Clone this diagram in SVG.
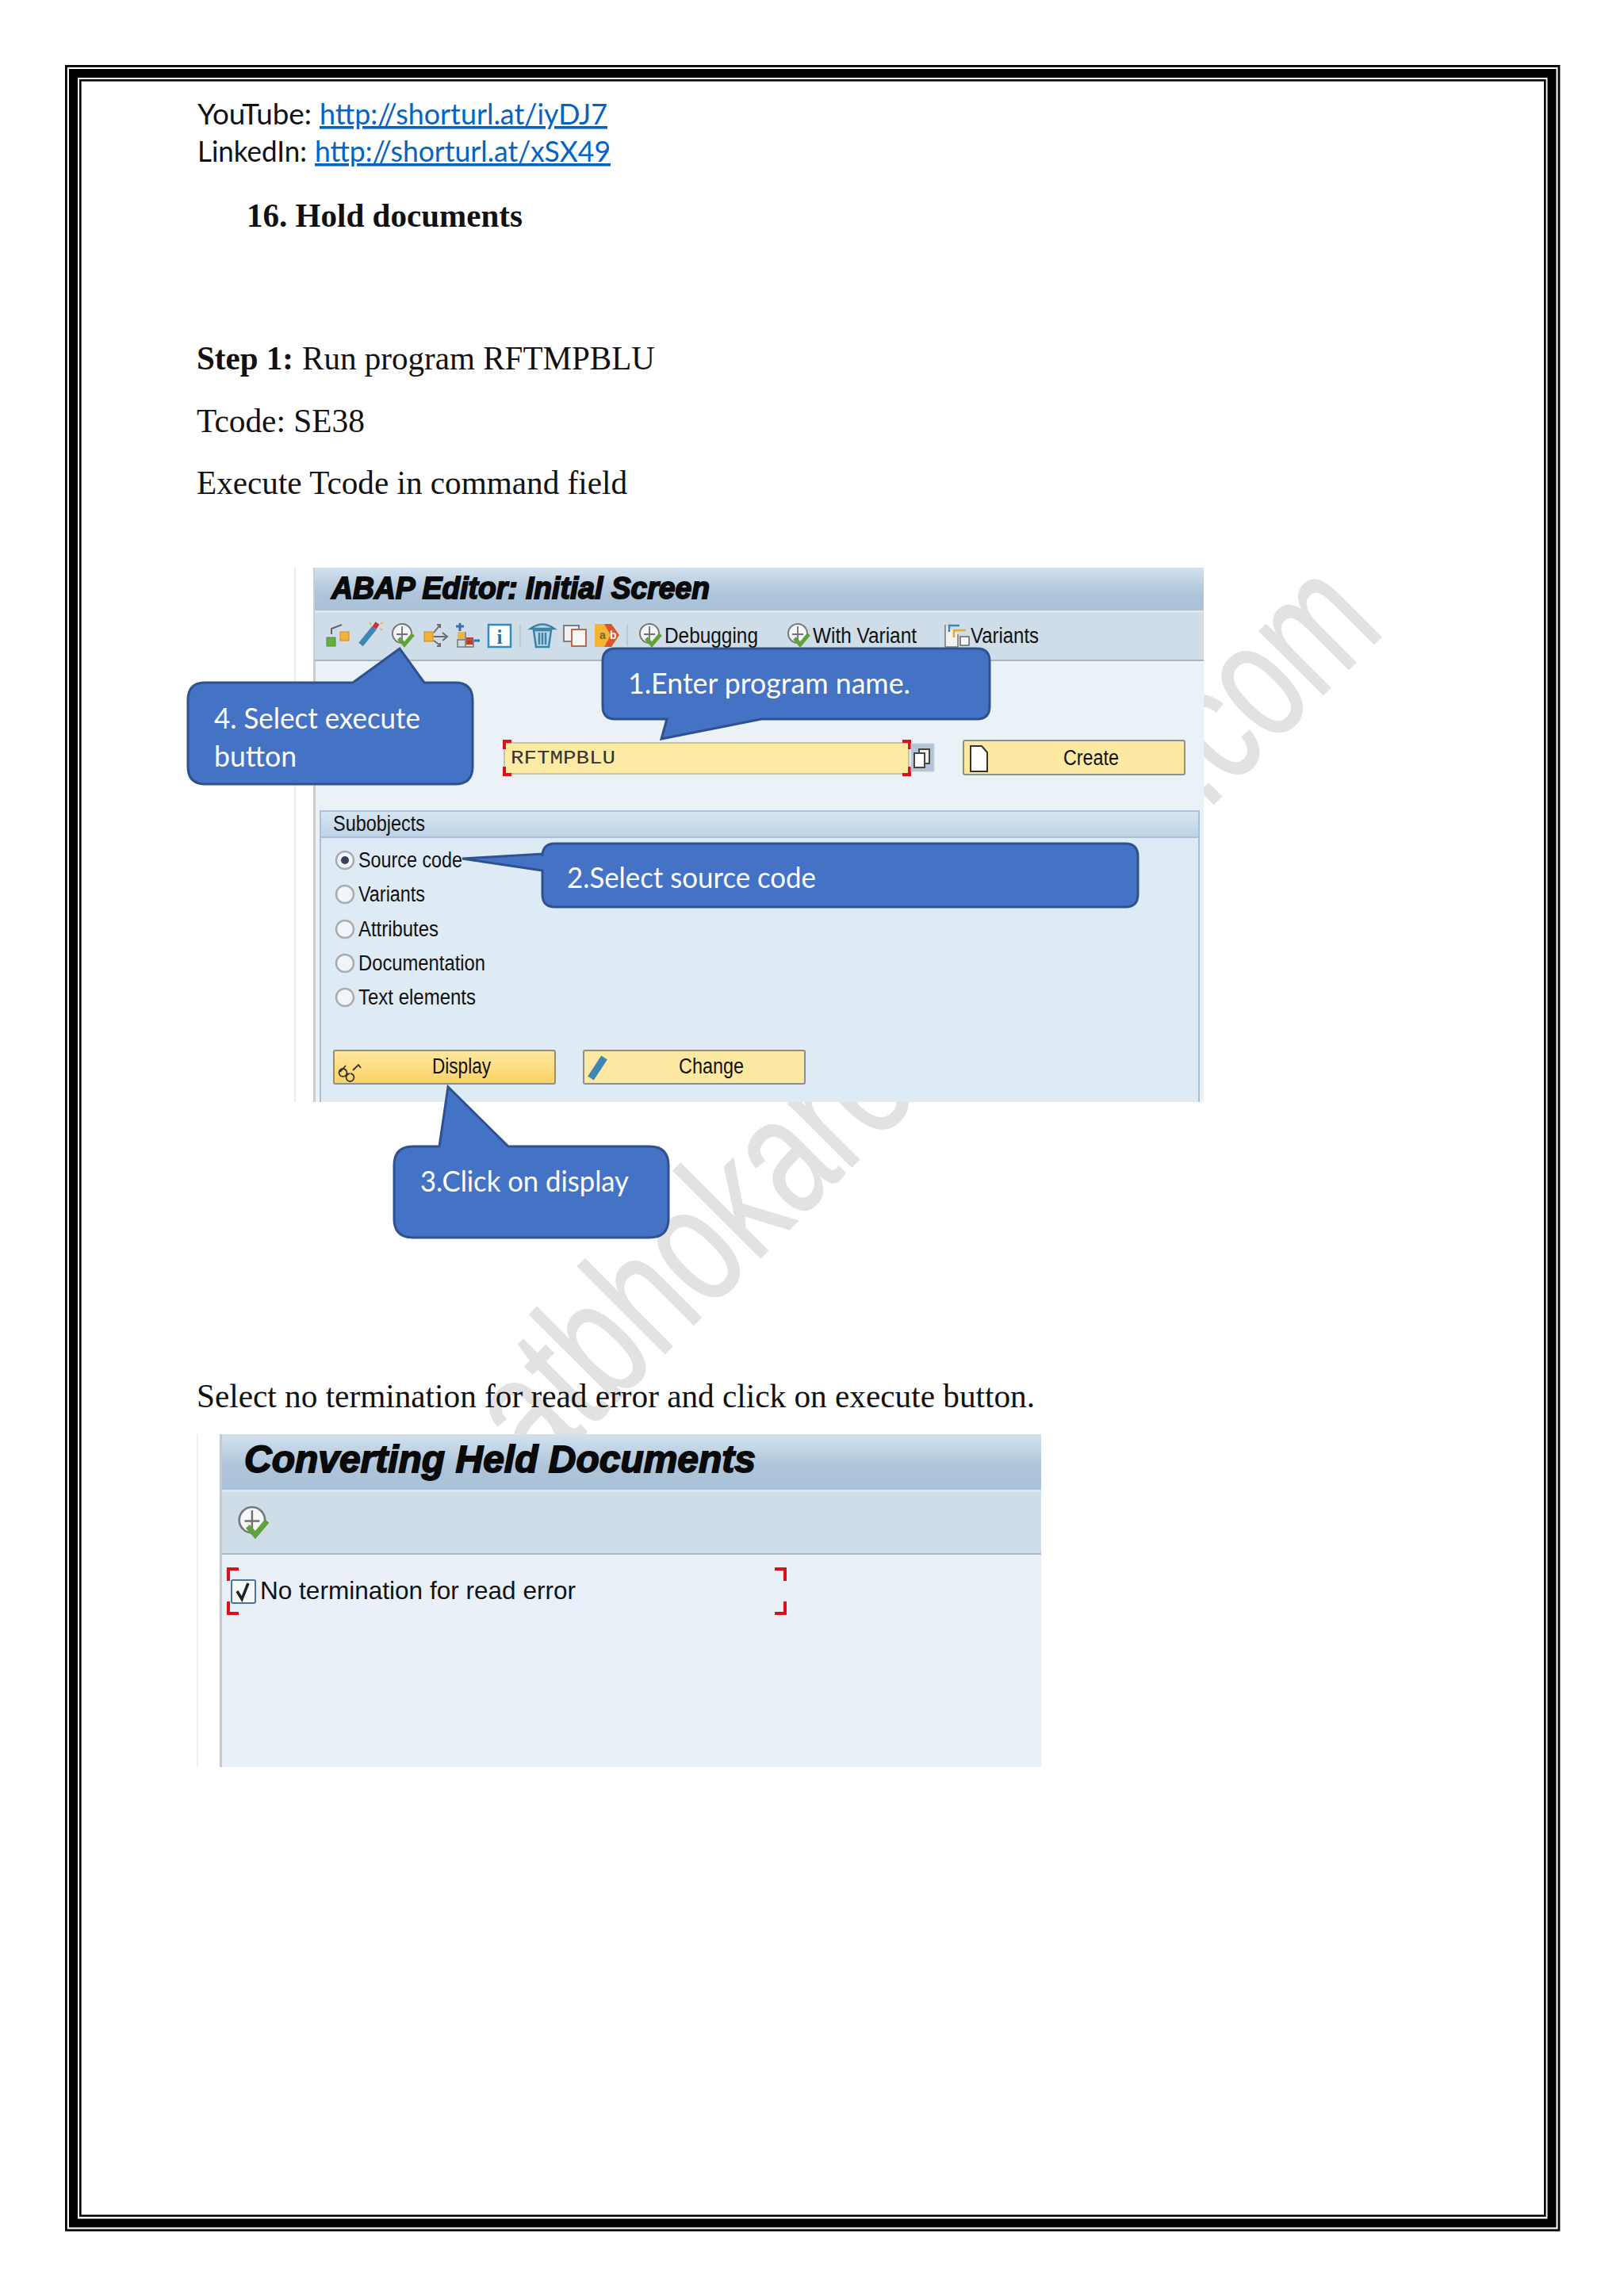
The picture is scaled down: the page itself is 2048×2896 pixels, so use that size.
<svg xmlns="http://www.w3.org/2000/svg" xmlns:xlink="http://www.w3.org/1999/xlink" width="2048" height="2896" viewBox="0 0 2048 2896">
<style>
.cal{font-family:"Lato","Liberation Sans",sans-serif;font-size:36px;fill:#111}
.link{fill:#0563c1;text-decoration:underline}
.ser{font-family:"Liberation Serif",serif;font-size:42px;fill:#111}
.b{font-weight:700}
.ui{font-family:"Liberation Sans",sans-serif;font-size:27px;fill:#111}
.ttl{font-family:"Liberation Sans",sans-serif;font-weight:700;font-style:italic;fill:#0a0a0a;stroke:#0a0a0a;stroke-width:1.8}
.call{fill:#4472c4;stroke:#2f528f;stroke-width:3;stroke-linejoin:miter}
.ct{font-family:"Lato","Liberation Sans",sans-serif;font-size:36px;fill:#fff}
.red{fill:none;stroke:#d9111a;stroke-width:4}
.btn{stroke:#8f8f86;stroke-width:2}
.rad{fill:#f1f5f9;stroke:#a9adb1;stroke-width:2.5}
.fr{fill:none;stroke:#000}
.wm{font-family:"Liberation Sans",sans-serif;font-size:215px;fill:#e2e2e2;stroke:#e2e2e2;stroke-width:1.5}
</style>
<defs>
<linearGradient id="hdr" x1="0" y1="0" x2="0" y2="1"><stop offset="0" stop-color="#d3e1ee"/><stop offset="0.6" stop-color="#adc4da"/><stop offset="1" stop-color="#aac2d9"/></linearGradient>
<linearGradient id="sub" x1="0" y1="0" x2="0" y2="1"><stop offset="0" stop-color="#d8e6f2"/><stop offset="1" stop-color="#bdd2e6"/></linearGradient>
<linearGradient id="dsp" x1="0" y1="0" x2="0" y2="1"><stop offset="0" stop-color="#fee7a0"/><stop offset="1" stop-color="#fdd266"/></linearGradient>
<g id="clock">
<circle cx="14" cy="12" r="12" fill="#f4f6f7" stroke="#75797c" stroke-width="2"/>
<path d="M14 3V20M7 13H21" stroke="#6d7174" stroke-width="1.8" fill="none"/>
<path d="M10 18L17 26L28 13" fill="none" stroke="#5ea23a" stroke-width="5"/>
</g>
</defs>
<rect width="2048" height="2896" fill="#fff"/>

<g id="page-border">
<rect class="fr" x="83.4" y="83.4" width="1882.6" height="2729.6" stroke-width="2.8"/>
<rect class="fr" x="92.5" y="92.5" width="1864.5" height="2711.5" stroke-width="11"/>
<rect class="fr" x="101.3" y="101.3" width="1847" height="2693.5" stroke-width="2.6"/>
</g>

<g id="watermark">
<text class="wm" transform="translate(680,1866) rotate(-45)" textLength="683" lengthAdjust="spacingAndGlyphs">atbhokare</text>
<text class="wm" transform="translate(1521,1024) rotate(-45)" textLength="322" lengthAdjust="spacingAndGlyphs">.com</text>
</g>

<g id="page-text">
<text class="cal" x="249" y="157" textLength="144" lengthAdjust="spacingAndGlyphs">YouTube:</text>
<text class="cal link" x="403" y="157" textLength="363" lengthAdjust="spacingAndGlyphs">http://shorturl.at/iyDJ7</text>
<text class="cal" x="249" y="204" textLength="138" lengthAdjust="spacingAndGlyphs">LinkedIn:</text>
<text class="cal link" x="397" y="204" textLength="373" lengthAdjust="spacingAndGlyphs">http://shorturl.at/xSX49</text>
<text class="ser b" x="311" y="286" textLength="348" lengthAdjust="spacingAndGlyphs">16. Hold documents</text>
<text class="ser b" x="248" y="466" textLength="122" lengthAdjust="spacingAndGlyphs">Step 1:</text>
<text class="ser" x="381" y="466" textLength="445" lengthAdjust="spacingAndGlyphs">Run program RFTMPBLU</text>
<text class="ser" x="248" y="545" textLength="212" lengthAdjust="spacingAndGlyphs">Tcode: SE38</text>
<text class="ser" x="248" y="623" textLength="543" lengthAdjust="spacingAndGlyphs">Execute Tcode in command field</text>
<text class="ser" x="248" y="1775" textLength="1057" lengthAdjust="spacingAndGlyphs">Select no termination for read error and click on execute button.</text>
</g>

<g id="abap-screen">
<rect x="371" y="716" width="1147" height="674" fill="#fff"/>
<rect x="371" y="716" width="2" height="674" fill="#ececec"/>
<rect x="396" y="716" width="1122" height="674" fill="#eaf1f7"/>
<rect x="395" y="716" width="3" height="674" fill="#c9ced3"/>
<rect x="397" y="716" width="1121" height="54" fill="url(#hdr)"/>
<rect x="397" y="770" width="1121" height="3" fill="#dbe6f0"/>
<rect x="397" y="773" width="1121" height="59" fill="#cfdde9"/>
<rect x="397" y="832" width="1121" height="2" fill="#a8b6c4"/>
<text class="ttl" x="418" y="755" font-size="38" textLength="477" lengthAdjust="spacingAndGlyphs">ABAP Editor: Initial Screen</text>

<g id="toolbar">
<path d="M418 800V793L431 788" fill="none" stroke="#666" stroke-width="2"/>
<rect x="412" y="804" width="11" height="11" fill="#63b03f" stroke="#4e8a34"/>
<rect x="429" y="797" width="11" height="11" fill="#f5b335" stroke="#c98a1b"/>
<path d="M455 813L472 792" stroke="#3f86b5" stroke-width="7"/>
<path d="M472 792L476 786" stroke="#cf2e3e" stroke-width="6"/>
<path d="M480 787L483 785M466 785L468 788M482 795L479 793" stroke="#f2b33d" stroke-width="2"/>
<use xlink:href="#clock" href="#clock" x="493" y="787"/>
<rect x="535" y="797" width="11" height="12" fill="#f5b335" stroke="#c98a1b"/>
<path d="M547 803H563M558 798L564 803L558 808M547 798L555 788M551 788H555V792M547 808L555 814M551 815H555V811" fill="none" stroke="#6c6c6c" stroke-width="2"/>
<rect x="577" y="797" width="9" height="9" fill="#f5b335"/><rect x="588" y="804" width="9" height="9" fill="#c23b25"/>
<path d="M580 786V796M575 790H585M598 808H605" stroke="#3a6db0" stroke-width="3"/>
<path d="M577 807H597V816H577ZM587 797V816" fill="none" stroke="#777" stroke-width="1.5"/>
<rect x="616" y="788" width="28" height="28" fill="#fff" stroke="#2d8ec1" stroke-width="2.5"/>
<text x="630" y="812" text-anchor="middle" font-family="Liberation Serif, serif" font-weight="700" font-size="25" fill="#1777a8">i</text>
<path d="M656 788V815M791 788V815" stroke="#b8c4cf" stroke-width="1.5"/>
<path d="M669 793Q684 782 699 793ZM673 795H695L692 816H676ZM680 798V813M684 798V813M688 798V813" fill="#bcd4e4" stroke="#3e84a8" stroke-width="2.5"/>
<rect x="711" y="789" width="19" height="20" fill="#eef1f3" stroke="#7e7e7e" stroke-width="2"/>
<rect x="721" y="794" width="18" height="21" fill="#f6f6f6" stroke="#b86a55" stroke-width="2"/>
<path d="M750 787H763L772 801L763 816H750Z" fill="#f6b335"/>
<path d="M762 787H771L781 801L771 816H762L770 801Z" fill="#d8562a"/>
<text x="756" y="806" font-family="Liberation Sans, sans-serif" font-weight="700" font-size="14" fill="#6b6b2a">a</text>
<text x="769" y="806" font-family="Liberation Sans, sans-serif" font-weight="700" font-size="14" fill="#fff">b</text>
<use xlink:href="#clock" href="#clock" x="805" y="787"/>
<text class="ui" x="838" y="811" textLength="118" lengthAdjust="spacingAndGlyphs">Debugging</text>
<use xlink:href="#clock" href="#clock" x="992" y="787"/>
<text class="ui" x="1025" y="811" textLength="131" lengthAdjust="spacingAndGlyphs">With Variant</text>
<path d="M1192 788V816H1208V800" fill="#f2f2f2" stroke="#777" stroke-width="1.5"/>
<path d="M1197 797V789H1210" fill="none" stroke="#3e86b8" stroke-width="2.5"/>
<path d="M1203 804V795H1218" fill="none" stroke="#f0a52c" stroke-width="2.5"/>
<rect x="1211" y="803" width="11" height="11" fill="#fafafa" stroke="#666" stroke-width="1.5"/>
<text class="ui" x="1224" y="811" textLength="86" lengthAdjust="spacingAndGlyphs">Variants</text>
</g>

<g id="program-field">
<rect x="636" y="937" width="510" height="39" fill="#fdeba3" stroke="#b5b5a8" stroke-width="1.5"/>
<path class="red" d="M645 935H636V945M636 967V977H645M1138 935H1147V945M1147 967V977H1138"/>
<text x="644" y="963" font-family="Liberation Mono, monospace" font-size="24" fill="#333" textLength="132" lengthAdjust="spacingAndGlyphs">RFTMPBLU</text>
<rect x="1149" y="938" width="29" height="35" fill="#b4c4d6" stroke="#c6d0da"/>
<rect x="1159" y="945" width="13" height="18" fill="#eee" stroke="#444" stroke-width="2"/>
<rect x="1153" y="950" width="13" height="18" fill="#fff" stroke="#444" stroke-width="2"/>
</g>

<g id="create-button">
<rect class="btn" x="1215" y="934" width="279" height="43" rx="2" fill="#fee9a2"/>
<path d="M1224 941H1238L1245 949V973H1224Z" fill="#fff" stroke="#333" stroke-width="2"/>
<text class="ui" x="1376" y="965" text-anchor="middle" textLength="70" lengthAdjust="spacingAndGlyphs">Create</text>
</g>

<g id="subobjects">
<rect x="404" y="1023" width="1108" height="367" fill="#deeaf4"/>
<path d="M404 1390V1023H1512V1390" fill="none" stroke="#a9c0d6" stroke-width="2"/>
<rect x="404" y="1023" width="1108" height="33" fill="url(#sub)" stroke="#a9c0d6" stroke-width="2"/>
<text class="ui" x="420" y="1048" textLength="116" lengthAdjust="spacingAndGlyphs">Subobjects</text>
<circle class="rad" cx="435" cy="1085" r="11"/><circle cx="435" cy="1085" r="5" fill="#3b3f55"/>
<text class="ui" x="452" y="1094" textLength="131" lengthAdjust="spacingAndGlyphs">Source code</text>
<circle class="rad" cx="435" cy="1128" r="11"/>
<text class="ui" x="452" y="1137" textLength="84" lengthAdjust="spacingAndGlyphs">Variants</text>
<circle class="rad" cx="435" cy="1172" r="11"/>
<text class="ui" x="452" y="1181" textLength="101" lengthAdjust="spacingAndGlyphs">Attributes</text>
<circle class="rad" cx="435" cy="1215" r="11"/>
<text class="ui" x="452" y="1224" textLength="160" lengthAdjust="spacingAndGlyphs">Documentation</text>
<circle class="rad" cx="435" cy="1258" r="11"/>
<text class="ui" x="452" y="1267" textLength="148" lengthAdjust="spacingAndGlyphs">Text elements</text>
</g>

<g id="display-button">
<rect class="btn" x="421" y="1325" width="279" height="42" rx="2" fill="url(#dsp)"/>
<path d="M432 1348a5 5 0 1 0 1 0M441 1354a5 5 0 1 0 1 0M436 1344L429 1352M445 1350L452 1343L455 1347" fill="none" stroke="#333" stroke-width="1.8"/>
<text class="ui" x="582" y="1354" text-anchor="middle" textLength="74" lengthAdjust="spacingAndGlyphs">Display</text>
</g>
<g id="change-button">
<rect class="btn" x="736" y="1325" width="279" height="42" rx="2" fill="#fee9a2"/>
<path d="M745 1360L762 1334" stroke="#3f86b5" stroke-width="9"/>
<text class="ui" x="897" y="1354" text-anchor="middle" textLength="82" lengthAdjust="spacingAndGlyphs">Change</text>
</g>
</g>

<g id="convert-screen">
<rect x="248" y="1809" width="2" height="420" fill="#efefef"/>
<rect x="278" y="1809" width="1035" height="420" fill="#eaf0f7"/>
<rect x="277" y="1809" width="3" height="420" fill="#c3cad1"/>
<rect x="280" y="1809" width="1033" height="70" fill="url(#hdr)"/>
<rect x="280" y="1879" width="1033" height="3" fill="#dbe6f0"/>
<rect x="280" y="1882" width="1033" height="77" fill="#cfdde9"/>
<rect x="280" y="1959" width="1033" height="2" fill="#a8b6c4"/>
<text class="ttl" x="308" y="1857" font-size="48" textLength="645" lengthAdjust="spacingAndGlyphs">Converting Held Documents</text>
<use xlink:href="#clock" href="#clock" transform="translate(299,1901) scale(1.35)"/>
<path class="red" d="M301 1979H288V1994M288 2020V2035H301M977 1979H990V1994M990 2020V2035H977"/>
<rect x="292" y="1993" width="30" height="29" rx="2" fill="#f5f8fb" stroke="#4a74a8" stroke-width="2"/>
<path d="M299 2007L305 2017L313 1997" fill="none" stroke="#222" stroke-width="3.5"/>
<text class="ui" x="328" y="2017" textLength="398" lengthAdjust="spacingAndGlyphs" style="font-size:32px">No termination for read error</text>
</g>

<g id="connectors"></g>

<g id="callout-4">
<path class="call" d="M259 861H445L504 818L535 861H574Q596 861 596 883V967Q596 989 574 989H259Q237 989 237 967V883Q237 861 259 861Z"/>
<text class="ct" x="270" y="919" textLength="260" lengthAdjust="spacingAndGlyphs">4. Select execute</text>
<text class="ct" x="270" y="967" textLength="104" lengthAdjust="spacingAndGlyphs">button</text>
</g>
<g id="callout-1">
<path class="call" d="M776 818H1232Q1248 818 1248 834V891Q1248 907 1232 907H960L834 932L841 907H776Q760 907 760 891V834Q760 818 776 818Z"/>
<text class="ct" x="792" y="875" textLength="356" lengthAdjust="spacingAndGlyphs">1.Enter program name.</text>
</g>
<g id="callout-2">
<path class="call" d="M700 1064H1419Q1435 1064 1435 1080V1128Q1435 1144 1419 1144H700Q684 1144 684 1128V1098L583 1083L684 1077V1080Q684 1064 700 1064Z"/>
<text class="ct" x="715" y="1120" textLength="314" lengthAdjust="spacingAndGlyphs">2.Select source code</text>
</g>
<g id="callout-3">
<path class="call" d="M521 1446H554L565 1371L641 1446H819Q843 1446 843 1470V1537Q843 1561 819 1561H521Q497 1561 497 1537V1470Q497 1446 521 1446Z"/>
<text class="ct" x="530" y="1503" textLength="263" lengthAdjust="spacingAndGlyphs">3.Click on display</text>
</g>
</svg>
